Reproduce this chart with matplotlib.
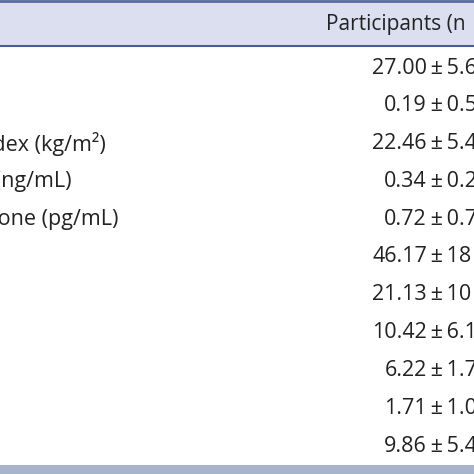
import matplotlib
matplotlib.use("Agg")
import matplotlib.pyplot as plt
from matplotlib.patches import Rectangle

header = "Participants (n"
means = ["27.00", "0.19", "22.46", "0.34", "0.72", "46.17", "21.13", "10.42", "6.22", "1.71", "9.86"]
sds = ["5.6", "0.5", "5.4", "0.2", "0.7", "18", "10", "6.1", "1.7", "1.0", "5.4"]
labels = ["", "", "Body mass index (kg/m²)", "Anti-Müllerian hormone (ng/mL)", "Progesterone (pg/mL)",
          "", "", "", "", "", ""]
label_right = [0, 0, 106, 71, 118, 0, 0, 0, 0, 0, 0]

W = H = 474
fig = plt.figure(figsize=(4.74, 4.74), dpi=100)
ax = fig.add_axes([0, 0, 1, 1])
ax.set_xlim(0, W)
ax.set_ylim(H, 0)
ax.axis("off")
fam = ["Open Sans", "DejaVu Sans"]

ax.add_patch(Rectangle((0, 0), W, 46, color="#dcdff0", lw=0))
ax.plot([0, W], [1, 1], color="#5b6aa0", lw=2)
ax.plot([0, W], [45.5, 45.5], color="#4a5b96", lw=1.5)
ax.add_patch(Rectangle((0, 465), W, 9, color="#a8b4cc", lw=0))

ax.text(326, 24, header, ha="left", va="center", fontsize=15, family=fam, color="#222")

y0, dy = 68, 37.8
for i, (m, s) in enumerate(zip(means, sds)):
    y = y0 + i * dy
    ax.text(427, y, m, ha="right", va="center", fontsize=15.5, family=fam, color="#222")
    ax.text(427, y, "\u2009±\u2009" + s, ha="left", va="center", fontsize=15.5, family=fam, color="#222")
    if labels[i]:
        ax.text(label_right[i], y, labels[i], ha="right", va="center", fontsize=15.5, family=fam, color="#222")

fig.savefig("out.png", dpi=100)
